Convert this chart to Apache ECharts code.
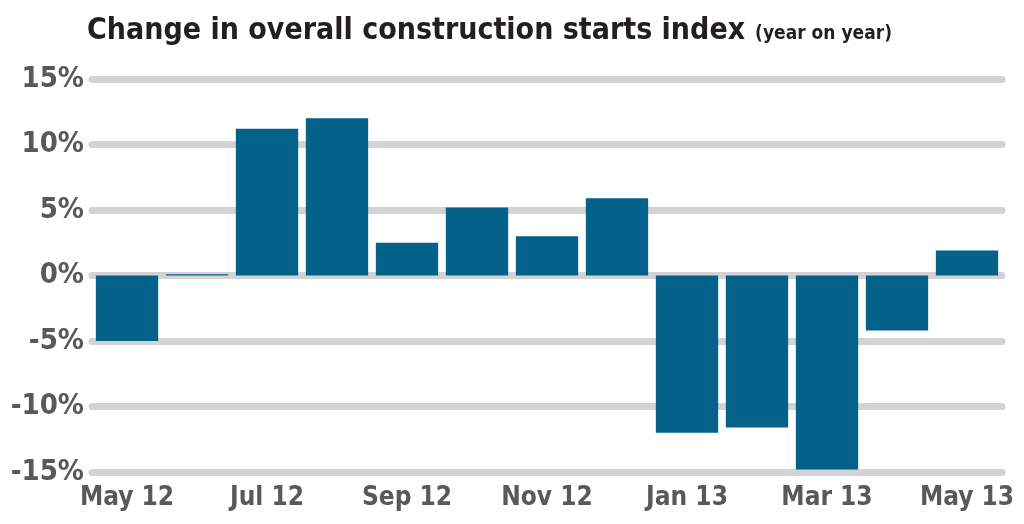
<!DOCTYPE html>
<html>
<head>
<meta charset="utf-8">
<script src="https://cdn.jsdelivr.net/npm/echarts@6/dist/echarts.min.js"></script>
<style>
  html, body { margin: 0; padding: 0; background: #fff; }
  #chart { width: 1024px; height: 524px; }
</style>
</head>
<body>
<div id="chart"></div>
<script>
// 月份
var months = ['May 12', 'Jun 12', 'Jul 12', 'Aug 12', 'Sep 12', 'Oct 12', 'Nov 12',
  'Dec 12', 'Jan 13', 'Feb 13', 'Mar 13', 'Apr 13', 'May 13']
// 同比变化 (%)
var changes = [-5.0, 0.1, 11.2, 12.0, 2.5, 5.2, 3.0, 5.9, -12.0, -11.6, -14.8, -4.2, 1.9]

var font = '"Liberation Sans Narrow", "DejaVu Sans Condensed", "Open Sans", sans-serif'

var myChart = echarts.init(document.getElementById('chart'))
var option = {
  backgroundColor: '#fff',
  animation: false,
  title: {
    left: 82,
    top: 11,
    text: '{a|Change in overall construction starts index}  {b|(year on year)}',
    textStyle: {
      rich: {
        a: { fontFamily: font, fontSize: 30, fontWeight: 'bold', color: '#231f20', verticalAlign: 'bottom' },
        b: { fontFamily: font, fontSize: 19, fontWeight: 'bold', color: '#231f20', verticalAlign: 'bottom', padding: [0, 0, 2, 0] }
      }
    }
  },
  grid: {
    left: 92,
    right: 22,
    top: 79,
    bottom: 52
  },
  xAxis: {
    type: 'category',
    data: months,
    axisLine: { show: false },
    axisTick: { show: false },
    axisLabel: {
      interval: 1,
      margin: 13,
      color: '#58595b',
      fontFamily: font,
      fontSize: 26,
      fontWeight: 'bold'
    }
  },
  yAxis: {
    type: 'value',
    min: -15,
    max: 15,
    interval: 5,
    axisLine: { show: false },
    axisTick: { show: false },
    axisLabel: {
      margin: 8,
      color: '#58595b',
      fontFamily: font,
      fontSize: 29,
      fontWeight: 'bold',
      formatter: '{value}%'
    },
    splitLine: {
      lineStyle: { color: '#d3d3d5', width: 7, cap: 'round' }
    }
  },
  series: [{
    type: 'bar',
    data: changes,
    barCategoryGap: '11%',
    itemStyle: { color: '#03618a' }
  }]
}
myChart.setOption(option)
</script>
</body>
</html>
